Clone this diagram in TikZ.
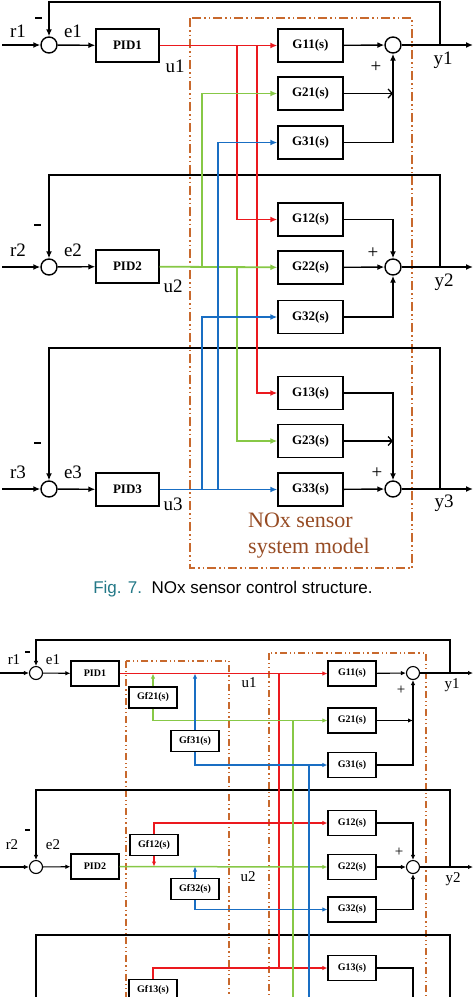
\documentclass[tikz,border=0pt]{standalone}
\usepackage{fontspec}
\setmainfont{Liberation Serif}
\newfontfamily\capfont{Liberation Sans}
\usetikzlibrary{arrows.meta}
\definecolor{cred}{RGB}{235,25,30}
\definecolor{cgreen}{RGB}{135,200,70}
\definecolor{cblue}{RGB}{25,110,195}
\definecolor{cdash}{RGB}{200,105,45}
\definecolor{cbrown}{RGB}{150,75,35}
\definecolor{cteal}{RGB}{35,120,135}
\tikzset{
 lwA/.style={line width=1.4pt},
 clA/.style={line width=1.8pt},
 boxA/.style={draw, line width=1.4pt, minimum width=65pt, minimum height=33pt, inner sep=0pt, font=\fontsize{13}{13}\selectfont\bfseries},
 pidA/.style={boxA, minimum width=63pt},
 sumA/.style={draw, circle, line width=1.4pt, minimum size=16pt, inner sep=0pt},
 arA/.style={lwA, -{Latex[length=7pt,width=6pt]}},
 carA/.style={clA, -{Latex[length=7pt,width=6pt]}},
 oarA/.style={lwA, -{Straight Barb[length=4pt,width=9pt,line width=1.3pt]}},
 lblA/.style={font=\fontsize{19}{19}\selectfont, inner sep=0pt},
 minA/.style={fill, minimum width=7pt, minimum height=2.6pt, inner sep=0pt},
 dashbox/.style={draw=cdash, line width=1.5pt, dash pattern=on 9pt off 3pt on 1.5pt off 3pt on 1.5pt off 3pt},
 lwB/.style={line width=1.1pt},
 clB/.style={line width=1.5pt},
 boxB/.style={draw, line width=1.2pt, minimum width=48pt, minimum height=25pt, inner sep=0pt, font=\fontsize{10}{10}\selectfont\bfseries},
 gfB/.style={boxB, minimum height=21pt},
 sumB/.style={draw, circle, line width=1.1pt, minimum size=13pt, inner sep=0pt},
 arB/.style={lwB, -{Latex[length=5pt,width=4.5pt]}},
 carB/.style={clB, -{Latex[length=5pt,width=4.5pt]}},
 lblB/.style={font=\fontsize{15}{15}\selectfont, inner sep=0pt},
 minB/.style={fill, minimum width=5pt, minimum height=2.2pt, inner sep=0pt},
 dashboxB/.style={draw=cdash, line width=1.2pt, dash pattern=on 7pt off 3pt on 1.2pt off 3pt on 1.2pt off 3pt},
}
\begin{document}
\begin{tikzpicture}[x=1pt,y=-1pt]
\useasboundingbox (0,0) rectangle (474,997);
\clip (0,0) rectangle (474,997);

% ================= TOP DIAGRAM =================
\draw[dashbox] (190,18) rectangle (412,568);

% nodes
\node[sumA] (sa1) at (49,45) {};
\node[sumA] (sa2) at (49,267) {};
\node[sumA] (sa3) at (49,489) {};
\node[pidA] (pid1) at (127.5,45.5) {PID1};
\node[pidA] (pid2) at (127.5,266.5) {PID2};
\node[pidA] (pid3) at (127.5,489.5) {PID3};
\node[boxA] (g11) at (310.5,45.5) {G11(s)};
\node[boxA] (g21) at (310.5,93.5) {G21(s)};
\node[boxA] (g31) at (310.5,142.5) {G31(s)};
\node[boxA] (g12) at (310.5,219.5) {G12(s)};
\node[boxA] (g22) at (310.5,267.5) {G22(s)};
\node[boxA] (g32) at (310.5,317) {G32(s)};
\node[boxA] (g13) at (310.5,393) {G13(s)};
\node[boxA] (g23) at (310.5,441) {G23(s)};
\node[boxA] (g33) at (310.5,489.5) {G33(s)};
\node[sumA] (sb1) at (393,45) {};
\node[sumA] (sb2) at (393,267) {};
\node[sumA] (sb3) at (393,489) {};

% coordinates
\coordinate (in1) at (2,45);
\coordinate (in2) at (2,267);
\coordinate (in3) at (2,489);
\coordinate (out1) at (473,45);
\coordinate (out2) at (473,267);
\coordinate (out3) at (473,489);
\coordinate (fb1) at (440,45);
\coordinate (fb2) at (440,267);
\coordinate (fb3) at (440,489);
\coordinate (ft1) at (49,2);
\coordinate (ft2) at (49,175);
\coordinate (ft3) at (49,348);
\coordinate (ra) at (237,45);
\coordinate (rb) at (257,45);
\coordinate (ga) at (202,267);
\coordinate (gb) at (237,267);
\coordinate (ba) at (218,489);
\coordinate (bb) at (202,489);

% inputs, errors
\foreach \i in {1,2,3}{
  \draw[arA] (in\i) -- (sa\i);
  \draw[arA] (sa\i) -- (pid\i);
  \draw[arA] (sb\i) -- (out\i);
  \draw[arA] (fb\i) |- (ft\i) -- (sa\i);
}

% colored signals
\draw[carA, cred] (pid1) -- (g11);
\draw[carA, cred] (ra) |- (g12);
\draw[carA, cred] (rb) |- (g13);
\draw[carA, cgreen] (pid2) -- (g22);
\draw[carA, cgreen] (ga) |- (g21);
\draw[carA, cgreen] (gb) |- (g23);
\draw[carA, cblue] (pid3) -- (g33);
\draw[carA, cblue] (ba) |- (g31);
\draw[carA, cblue] (bb) |- (g32);

% outputs of G's
\draw[arA] (g11) -- (sb1);
\draw[oarA] (g21.east) -- (g21.east -| sb1.center);
\draw[arA] (g31) -| (sb1);
\draw[arA] (g12) -| (sb2);
\draw[arA] (g22) -- (sb2);
\draw[arA] (g32) -| (sb2);
\draw[arA] (g13) -| (sb3);
\draw[oarA] (g23.east) -- (g23.east -| sb3.center);
\draw[arA] (g33) -- (sb3);

% labels
\node[lblA] at (18,31) {r1};
\node[minA] at (38,18) {};
\node[lblA] at (73,31) {e1};
\node[lblA] at (175,66) {u1};
\node[lblA] at (376,67) {+};
\node[lblA] at (443,60) {y1};
\node[lblA] at (18,250) {r2};
\node[minA] at (37,225) {};
\node[lblA] at (73,250) {e2};
\node[lblA] at (173,286) {u2};
\node[lblA] at (373,253) {+};
\node[lblA] at (444,282) {y2};
\node[lblA] at (18,472) {r3};
\node[minA] at (37,443) {};
\node[lblA] at (73,472) {e3};
\node[lblA] at (173,504) {u3};
\node[lblA] at (377,473) {+};
\node[lblA] at (444,503) {y3};
\node[font=\fontsize{22}{22}\selectfont, text=cbrown, anchor=base west, inner sep=0pt] at (248,527) {NOx sensor};
\node[font=\fontsize{22}{22}\selectfont, text=cbrown, anchor=base west, inner sep=0pt] at (248,553) {system model};

% caption
\node[font=\capfont\fontsize{17}{17}\selectfont, anchor=base, inner sep=0pt] at (233,593) {\textcolor{cteal}{Fig. 7.}\ \ NOx sensor control structure.};

% ================= BOTTOM DIAGRAM =================
\draw[dashboxB] (126,661) rectangle (229,1020);
\draw[dashboxB] (269,653) rectangle (426,1020);

\node[sumB] (sc1) at (36,673) {};
\node[sumB] (sc2) at (36,867) {};
\node[boxB] (pidb1) at (95,673.5) {PID1};
\node[boxB] (pidb2) at (95,866.5) {PID2};
\node[gfB] (gf21) at (153,697.5) {Gf21(s)};
\node[gfB] (gf31) at (195,741) {Gf31(s)};
\node[gfB] (gf12) at (154,845) {Gf12(s)};
\node[gfB] (gf32) at (195,889) {Gf32(s)};
\node[gfB] (gf13) at (153,990) {Gf13(s)};
\node[boxB] (h11) at (352,673.5) {G11(s)};
\node[boxB] (h21) at (352,720.5) {G21(s)};
\node[boxB] (h31) at (352,765) {G31(s)};
\node[boxB] (h12) at (352,823) {G12(s)};
\node[boxB] (h22) at (352,867) {G22(s)};
\node[boxB] (h32) at (352,909.5) {G32(s)};
\node[boxB] (h13) at (352,968) {G13(s)};
\node[sumB] (sd1) at (413,673) {};
\node[sumB] (sd2) at (413,867) {};

\coordinate (jn1) at (0,673);
\coordinate (jn2) at (0,867);
\coordinate (jo1) at (473,673);
\coordinate (jo2) at (473,867);
\coordinate (jf1) at (450,673);
\coordinate (jf2) at (450,867);
\coordinate (jt1) at (36,640);
\coordinate (jt2) at (36,790);
\coordinate (jt3) at (36,935);
\coordinate (jl3) at (36,1005);
\coordinate (jr3) at (450,1005);
\coordinate (rv) at (279,673);
\coordinate (rv2) at (279,968);
\coordinate (gv) at (293,720.5);
\coordinate (gv2) at (293,1005);
\coordinate (bv) at (309,765);
\coordinate (bv2) at (309,1005);
\coordinate (sd3) at (413,1005);

\foreach \i in {1,2}{
  \draw[arB] (jn\i) -- (sc\i);
  \draw[arB] (sc\i) -- (pidb\i);
  \draw[arB] (sd\i) -- (jo\i);
  \draw[arB] (jf\i) |- (jt\i) -- (sc\i);
}
\draw[lwB] (jl3) |- (jr3 |- jt3) -- (jr3);

% u1 red
\draw[carB, cred] (pidb1) -- (h11);
\draw[clB, cred] (rv) -- (rv2);
\draw[carB, cred] (gf12.north) |- (h12);
\draw[carB, cred] (gf12.south) -- (gf12.south |- pidb2);
\draw[carB, cred] (gf13.north) |- (h13);
% u2 green
\draw[carB, cgreen] (pidb2) -- (h22);
\draw[carB, cgreen] (gf21.south) |- (h21);
\draw[carB, cgreen] (gf21.north) -- (gf21.north |- pidb1);
\draw[clB, cgreen] (gv) -- (gv2);
% u3 blue
\draw[carB, cblue] (gf31.north) -- (gf31.north |- pidb1);
\draw[carB, cblue] (gf31.south) |- (h31);
\draw[carB, cblue] (gf32.north) -- (gf32.north |- pidb2);
\draw[carB, cblue] (gf32.south) |- (h32);
\draw[clB, cblue] (bv) -- (bv2);

% G outputs
\draw[arB] (h11) -- (sd1);
\draw[arB] (h21.east) -- (h21.east -| sd1.center);
\draw[arB] (h31) -| (sd1);
\draw[arB] (h12) -| (sd2);
\draw[arB] (h22) -- (sd2);
\draw[arB] (h32) -| (sd2);
\draw[lwB] (h13) -| (sd3);

% labels
\node[lblB] at (14,660) {r1};
\node[minB] at (27,652) {};
\node[lblB] at (53,660) {e1};
\node[lblB] at (249,683) {u1};
\node[lblB] at (401,690) {+};
\node[lblB] at (452,685) {y1};
\node[lblB] at (12,845) {r2};
\node[minB] at (27,830) {};
\node[lblB] at (53,845) {e2};
\node[lblB] at (248,877) {u2};
\node[lblB] at (399,852) {+};
\node[lblB] at (453,879) {y2};
\end{tikzpicture}
\end{document}
